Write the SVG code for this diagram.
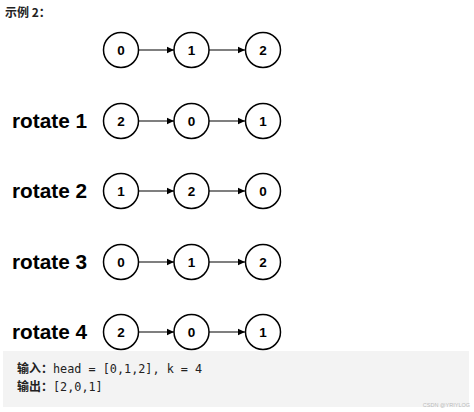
<svg xmlns="http://www.w3.org/2000/svg" width="474" height="412" viewBox="0 0 474 412">
<defs>
<style>
.n circle{fill:#fff;stroke:#000;stroke-width:1.5}
.n text{font-family:"Liberation Sans",Arial,sans-serif;font-weight:bold;font-size:13.5px;text-anchor:middle;fill:#000}
.lbl{font-family:"Liberation Sans",Arial,sans-serif;font-weight:bold;font-size:20.8px;fill:#000}
.e line{stroke:#000;stroke-width:1.2;marker-end:url(#ah)}
.cn{font-family:"Noto Sans CJK SC",sans-serif;font-weight:bold;font-size:12px;fill:#222}
.mono{font-family:"DejaVu Sans Mono",monospace;font-size:11.8px;fill:#222}
</style>
<marker id="ah" markerWidth="8" markerHeight="8" refX="7" refY="4" orient="auto" markerUnits="userSpaceOnUse">
<path d="M0,0.8 L7,4 L0,7.2 z" fill="#000"/>
</marker>
</defs>
<rect width="474" height="412" fill="#fff"/>
<text x="5" y="17" class="cn" font-size="13">示例 2：</text>

<g id="labels">
<text class="lbl" x="12" y="128">rotate 1</text>
<text class="lbl" x="12" y="198">rotate 2</text>
<text class="lbl" x="12" y="269">rotate 3</text>
<text class="lbl" x="12" y="339">rotate 4</text>
</g>

<g id="connectors" class="e">
<line x1="139" y1="50" x2="174" y2="50"/><line x1="209" y1="50" x2="245" y2="50"/>
<line x1="139" y1="121" x2="174" y2="121"/><line x1="209" y1="121" x2="245" y2="121"/>
<line x1="139" y1="191" x2="174" y2="191"/><line x1="209" y1="191" x2="245" y2="191"/>
<line x1="139" y1="262" x2="174" y2="262"/><line x1="209" y1="262" x2="245" y2="262"/>
<line x1="139" y1="332" x2="174" y2="332"/><line x1="209" y1="332" x2="245" y2="332"/>
</g>

<g id="r0a" class="n"><circle cx="121" cy="50" r="17.5"/><text x="121" y="55">0</text></g>
<g id="r0b" class="n"><circle cx="191.5" cy="50" r="17.5"/><text x="191.5" y="55">1</text></g>
<g id="r0c" class="n"><circle cx="263" cy="50" r="17.5"/><text x="263" y="55">2</text></g>

<g id="r1a" class="n"><circle cx="121" cy="121" r="17.5"/><text x="121" y="126">2</text></g>
<g id="r1b" class="n"><circle cx="191.5" cy="121" r="17.5"/><text x="191.5" y="126">0</text></g>
<g id="r1c" class="n"><circle cx="263" cy="121" r="17.5"/><text x="263" y="126">1</text></g>

<g id="r2a" class="n"><circle cx="121" cy="191" r="17.5"/><text x="121" y="196">1</text></g>
<g id="r2b" class="n"><circle cx="191.5" cy="191" r="17.5"/><text x="191.5" y="196">2</text></g>
<g id="r2c" class="n"><circle cx="263" cy="191" r="17.5"/><text x="263" y="196">0</text></g>

<g id="r3a" class="n"><circle cx="121" cy="262" r="17.5"/><text x="121" y="267">0</text></g>
<g id="r3b" class="n"><circle cx="191.5" cy="262" r="17.5"/><text x="191.5" y="267">1</text></g>
<g id="r3c" class="n"><circle cx="263" cy="262" r="17.5"/><text x="263" y="267">2</text></g>

<g id="r4a" class="n"><circle cx="121" cy="332" r="17.5"/><text x="121" y="337">2</text></g>
<g id="r4b" class="n"><circle cx="191.5" cy="332" r="17.5"/><text x="191.5" y="337">0</text></g>
<g id="r4c" class="n"><circle cx="263" cy="332" r="17.5"/><text x="263" y="337">1</text></g>

<g id="example">
<rect x="3" y="351" width="466" height="56" fill="#f3f3f3"/>
<text x="17" y="373" class="cn">输入：</text>
<text x="53" y="373" class="mono">head = [0,1,2], k = 4</text>
<text x="17" y="391" class="cn">输出：</text>
<text x="53" y="391" class="mono">[2,0,1]</text>
</g>
<text x="470" y="407" font-family="Liberation Sans,sans-serif" font-size="5.5" fill="#bbb" text-anchor="end">CSDN @YRIYLOG</text>
</svg>
